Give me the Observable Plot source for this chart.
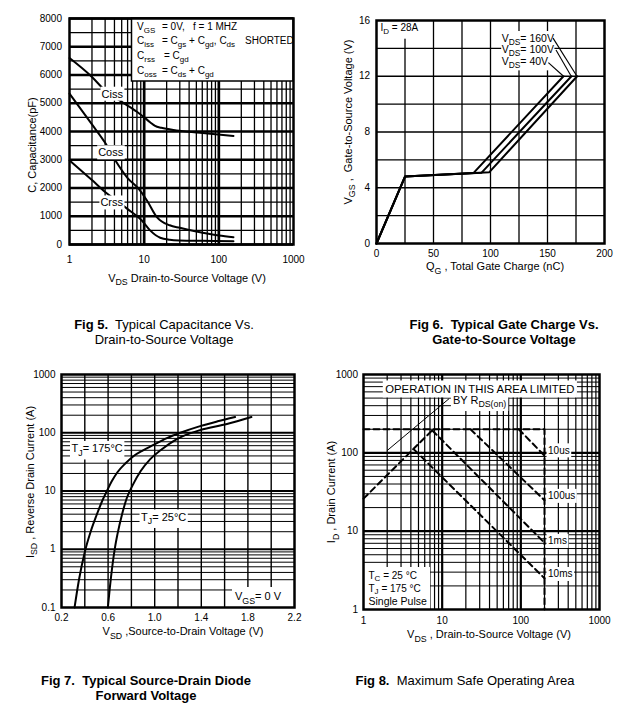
<!DOCTYPE html>
<html><head><meta charset="utf-8">
<script src="https://cdn.jsdelivr.net/npm/d3@7"></script>
<script src="https://cdn.jsdelivr.net/npm/@observablehq/plot@0.6"></script>
<style>
body{margin:0;background:#fff;font-family:"Liberation Sans",Arial,sans-serif;}
#page{position:relative;width:637px;height:710px;background:#fff;overflow:hidden;}
.panel{position:absolute;}
.cap{position:absolute;text-align:center;font-size:13px;line-height:15px;color:#000;white-space:nowrap;}
</style></head><body><div id="page"></div>
<script>
// ---------- Fig 5 data: capacitance vs VDS ----------
const capVdsIss = [1, 2, 3, 5, 8, 10, 12, 14, 17, 27, 56, 157];
const cissPF    = [6600, 5930, 5450, 5050, 4700, 4500, 4330, 4200, 4130, 4040, 3960, 3840];
const capVdsOss = [1, 2, 3, 4.1, 6, 8.4, 10.9, 14.8, 22, 30, 50, 100, 157];
const cossPF    = [5340, 4250, 3600, 2980, 2350, 1975, 1560, 970, 680, 590, 460, 320, 260];
const capVdsRss = [1, 2, 3, 4.4, 5.9, 9.3, 12, 16.4, 22, 30, 60, 157];
const crssPF    = [2980, 2280, 1860, 1530, 1270, 850, 500, 240, 170, 145, 130, 115];
const capTicksX = [1, 10, 100, 1000];
const capTicksY = [0, 1000, 2000, 3000, 4000, 5000, 6000, 7000, 8000];

// ---------- Fig 6 data: gate charge ----------
const qg40  = [0, 25, 85, 164];  const vgs40  = [0, 4.8, 5.05, 12];
const qg100 = [0, 25, 92, 171];  const vgs100 = [0, 4.8, 5.07, 12];
const qg160 = [0, 25, 99, 176];  const vgs160 = [0, 4.8, 5.12, 12];
const lead160Qg = [155.3, 176]; const lead160V = [14.7, 12];
const lead100Qg = [157.9, 171]; const lead100V = [13.85, 12];
const lead40Qg  = [151.2, 164]; const lead40V  = [12.94, 12];
const qgTicks = [0, 50, 100, 150, 200];
const vgsTicks = [0, 4, 8, 12, 16];

// ---------- Fig 7 data: diode forward voltage ----------
const vsd175 = [0.312, 0.35, 0.40, 0.45, 0.50, 0.55, 0.59, 0.63, 0.68, 0.75, 0.82, 0.90, 0.99, 1.10, 1.22, 1.39, 1.54, 1.69];
const isd175 = [0.1, 0.3, 0.9, 2.0, 3.8, 6.8, 10, 14.5, 21, 30, 40, 50, 62, 80, 100, 130, 157, 186];
const vsd25  = [0.598, 0.615, 0.635, 0.66, 0.68, 0.72, 0.76, 0.81, 0.88, 0.96, 1.05, 1.19, 1.39, 1.62, 1.83];
const isd25  = [0.1, 0.22, 0.49, 1.1, 1.8, 4, 7.5, 12.5, 22, 35, 50, 78, 111, 141, 186];
const vsdTicks = [0.2, 0.6, 1.0, 1.4, 1.8, 2.2];
const isdTicks = [0.1, 1, 10, 100, 1000];

// ---------- Fig 8 data: safe operating area ----------
const rdsVds = [1, 7.7];        const rdsId = [26, 200];
const limVds = [1, 200, 200];   const limId = [200, 200, 1];
const us10Vds = [94, 200];      const us10Id = [200, 92];
const us100Vds = [22.9, 200];   const us100Id = [200, 24.8];
const ms1Vds = [7.5, 200];      const ms1Id = [193, 7.1];
const ms10Vds = [4.4, 200];     const ms10Id = [110, 2.5];
const pointerVds = [12.2, 2.0]; const pointerId = [490, 107];
const soaTicksX = [1, 10, 100, 1000];
const soaTicksY = [1, 10, 100, 1000];

// ---------- helpers ----------
const FONT = "Liberation Sans, Arial, Helvetica, sans-serif";
const page = document.getElementById("page");
const rows = (xs, ys) => xs.map((x, i) => ({x, y: ys[i]}));
function logMinor(lo, hi) {
  const out = [];
  for (let d = lo; d < hi * 0.999; d *= 10) for (let k = 2; k <= 9; k++) out.push(+(d * k).toPrecision(3));
  return out;
}
function panel(o) {
  const svg = Plot.plot({
    width: o.width, height: o.height,
    marginLeft: o.mL, marginRight: o.mR, marginTop: o.mT, marginBottom: o.mB,
    x: o.x, y: o.y,
    style: {fontFamily: FONT, fontSize: "10px", color: "black", background: "white", overflow: "visible"},
    marks: o.marks
  });
  const div = document.createElement("div");
  div.className = "panel";
  div.style.left = o.left + "px"; div.style.top = o.top + "px";
  div.style.width = o.width + "px"; div.style.height = o.height + "px";
  div.appendChild(svg);
  page.appendChild(div);
  return svg;
}
function rich(svg, x, y, parts, o = {}) {
  const size = o.size || 10;
  const t = d3.select(svg).append("text")
    .attr("x", x).attr("y", y).attr("font-size", size).attr("fill", "black")
    .attr("font-family", FONT).attr("text-anchor", o.anchor || "start")
    .attr("font-weight", o.weight || "normal").attr("style", "white-space:pre");
  if (o.rotate) t.attr("transform", `rotate(${o.rotate} ${x} ${y})`);
  let cur = 0;
  for (const p of parts) {
    const q = typeof p === "string" ? {s: p} : p;
    const ts = t.append("tspan").text(q.s);
    const want = q.sub ? size * (o.subShift || 0.32) : 0;
    if (q.x != null) ts.attr("x", q.x);
    if (want !== cur) { ts.attr("dy", want - cur); cur = want; }
    if (q.sub) ts.attr("font-size", size * 0.8);
  }
  return t.node();
}
function box(svg, nodes, pad, ext = {}, stroke) {
  let x0 = Infinity, y0 = Infinity, x1 = -Infinity, y1 = -Infinity;
  for (const n of nodes) {
    const b = n.getBBox();
    x0 = Math.min(x0, b.x); y0 = Math.min(y0, b.y);
    x1 = Math.max(x1, b.x + b.width); y1 = Math.max(y1, b.y + b.height);
  }
  x0 -= pad; y0 -= pad; x1 += pad; y1 += pad;
  if (ext.left != null) x0 = ext.left;
  if (ext.top != null) y0 = ext.top;
  if (ext.right != null) x1 = ext.right;
  if (ext.bottom != null) y1 = ext.bottom;
  const r = document.createElementNS("http://www.w3.org/2000/svg", "rect");
  r.setAttribute("x", x0); r.setAttribute("y", y0);
  r.setAttribute("width", x1 - x0); r.setAttribute("height", y1 - y0);
  r.setAttribute("fill", "white");
  if (stroke) { r.setAttribute("stroke", "black"); r.setAttribute("stroke-width", stroke); }
  svg.insertBefore(r, nodes[0]);
  for (const n of nodes) svg.appendChild(n);
  return r;
}
function raiseFrame(svg) {
  d3.select(svg).selectAll('[aria-label="frame"]').raise();
}
const axisStyle = {tickSize: 0, label: null};

// ================= Fig 5 =================
{
  const svg = panel({
    left: 0, top: 0, width: 318, height: 290, mL: 69, mR: 25, mT: 18, mB: 46,
    x: {type: "log", domain: [1, 1000]},
    y: {domain: [0, 8000]},
    marks: [
      Plot.ruleX(logMinor(1, 1000), {stroke: "black", strokeWidth: 1.3}),
      Plot.ruleX([10, 100], {stroke: "black", strokeWidth: 2.7}),
      Plot.ruleY([500, 1500, 2500, 3500, 4500, 5500, 6500, 7500], {stroke: "black", strokeWidth: 1.3}),
      Plot.ruleY(capTicksY, {stroke: "black", strokeWidth: 2.7}),
      Plot.line(rows(capVdsIss, cissPF), {x: "x", y: "y", curve: "monotone-x", stroke: "black", strokeWidth: 2}),
      Plot.line(rows(capVdsOss, cossPF), {x: "x", y: "y", curve: "monotone-x", stroke: "black", strokeWidth: 2}),
      Plot.line(rows(capVdsRss, crssPF), {x: "x", y: "y", curve: "monotone-x", stroke: "black", strokeWidth: 2}),
      Plot.frame({stroke: "black", strokeWidth: 2.5}),
      Plot.axisX(capTicksX, {...axisStyle, tickPadding: 11, tickFormat: d => String(d)}),
      Plot.axisY(capTicksY, {...axisStyle, tickPadding: 7.5, tickFormat: d => String(d)})
    ]
  });
  const sx = svg.scale("x"), sy = svg.scale("y");
  const fr = sx.range[1], ft = sy.range[1];
  const L = [
    rich(svg, 137, 29.5, ["V", {s: "GS", sub: 1}, {s: "= 0V,", x: 162}, {s: "f = 1 MHZ", x: 193}]),
    rich(svg, 137, 43.5, ["C", {s: "iss", sub: 1}, {s: "= C", x: 162}, {s: "gs", sub: 1}, " + C", {s: "gd", sub: 1}, ", C", {s: "ds", sub: 1}, {s: "SHORTED", x: 245}]),
    rich(svg, 137, 59, ["C", {s: "rss", sub: 1}, {s: "= C", x: 164}, {s: "gd", sub: 1}]),
    rich(svg, 137, 74, ["C", {s: "oss", sub: 1}, {s: "= C", x: 162}, {s: "ds", sub: 1}, " + C", {s: "gd", sub: 1}])
  ];
  box(svg, L, 4, {right: fr, top: ft, bottom: 81, left: 131.5}, 1.5);
  for (const [name, vx, vy] of [["Ciss", 3.79, 5320], ["Coss", 3.62, 3245], ["Crss", 3.73, 1470]]) {
    const t = rich(svg, sx.apply(vx), sy.apply(vy) + 4, [name], {size: 11, anchor: "middle"});
    box(svg, [t], 1);
  }
  rich(svg, 187, 281.5, ["V", {s: "DS", sub: 1}, " Drain-to-Source Voltage (V)"], {size: 11, anchor: "middle"});
  rich(svg, 36, 145, ["C, Capacitance(pF)"], {size: 11, anchor: "middle", rotate: -90});
  raiseFrame(svg);
}

// ================= Fig 6 =================
{
  const svg = panel({
    left: 318, top: 0, width: 319, height: 290, mL: 58, mR: 33, mT: 20, mB: 47,
    x: {domain: [0, 200]},
    y: {domain: [0, 16]},
    marks: [
      Plot.ruleX([25, 50, 75, 100, 125, 150, 175], {stroke: "black", strokeWidth: 1.3}),
      Plot.ruleY([2, 4, 6, 8, 10, 12, 14], {stroke: "black", strokeWidth: 1.3}),
      Plot.line(rows(qg40, vgs40), {x: "x", y: "y", stroke: "black", strokeWidth: 2}),
      Plot.line(rows(qg100, vgs100), {x: "x", y: "y", stroke: "black", strokeWidth: 2}),
      Plot.line(rows(qg160, vgs160), {x: "x", y: "y", stroke: "black", strokeWidth: 2}),
      Plot.frame({stroke: "black", strokeWidth: 2.5}),
      Plot.axisX(qgTicks, {...axisStyle, tickPadding: 6, tickFormat: d => String(d)}),
      Plot.axisY(vgsTicks, {...axisStyle, tickPadding: 6.5, tickFormat: d => String(d)})
    ]
  });
  const sx = svg.scale("x"), sy = svg.scale("y");
  const t0 = rich(svg, sx.range[0] + 4.5, sy.range[1] + 10.5, ["I", {s: "D", sub: 1}, " = 28A"], {size: 10});
  box(svg, [t0], 3, {left: sx.range[0], top: sy.range[1]});
  const l1 = rich(svg, 183.7, 41.5, ["V", {s: "DS", sub: 1}, "= 160V"], {size: 10.5});
  const l2 = rich(svg, 183.7, 53, ["V", {s: "DS", sub: 1}, "= 100V"], {size: 10.5});
  const l3 = rich(svg, 183.7, 64.5, ["V", {s: "DS", sub: 1}, "= 40V"], {size: 10.5});
  box(svg, [l1, l2, l3], 0.5);
  const g = d3.select(svg).append("g").attr("stroke", "black").attr("stroke-width", 1.1);
  for (const [qs, vs] of [[lead160Qg, lead160V], [lead100Qg, lead100V], [lead40Qg, lead40V]]) {
    g.append("line").attr("x1", sx.apply(qs[0])).attr("y1", sy.apply(vs[0])).attr("x2", sx.apply(qs[1])).attr("y2", sy.apply(vs[1]));
  }
  rich(svg, 177, 270, ["Q", {s: "G", sub: 1}, " , Total Gate Charge (nC)"], {size: 11, anchor: "middle"});
  rich(svg, 33.5, 122, ["V", {s: "GS", sub: 1}, " ,  Gate-to-Source Voltage (V)"], {size: 11, anchor: "middle", rotate: -90});
  raiseFrame(svg);
}

// ================= Fig 7 =================
{
  const svg = panel({
    left: 0, top: 355, width: 318, height: 300, mL: 61, mR: 24, mT: 19, mB: 48,
    x: {domain: [0.2, 2.2]},
    y: {type: "log", domain: [0.1, 1000]},
    marks: [
      Plot.ruleX([0.4, 0.6, 0.8, 1.0, 1.2, 1.4, 1.6, 1.8, 2.0], {stroke: "black", strokeWidth: 1.4}),
      Plot.ruleY(logMinor(0.1, 1000), {stroke: "black", strokeWidth: 1}),
      Plot.ruleY([1, 10, 100], {stroke: "black", strokeWidth: 2.2}),
      Plot.line(rows(vsd175, isd175), {x: "x", y: "y", curve: "monotone-x", stroke: "black", strokeWidth: 2}),
      Plot.line(rows(vsd25, isd25), {x: "x", y: "y", curve: "monotone-x", stroke: "black", strokeWidth: 2}),
      Plot.frame({stroke: "black", strokeWidth: 2.5}),
      Plot.axisX(vsdTicks, {...axisStyle, tickPadding: 6, tickFormat: d => d.toFixed(1)}),
      Plot.axisY(isdTicks, {...axisStyle, tickPadding: 6, tickFormat: d => String(d)})
    ]
  });
  const sx = svg.scale("x"), sy = svg.scale("y");
  const a = rich(svg, sx.apply(0.29), sy.apply(45), ["T", {s: "J", sub: 1}, "= 175°C"], {size: 11});
  box(svg, [a], 1.5);
  const b = rich(svg, sx.apply(0.887), sy.apply(3.0), ["T", {s: "J", sub: 1}, "= 25°C"], {size: 11});
  box(svg, [b], 1.5);
  const c = rich(svg, sx.range[1] - 59, sy.range[0] - 7, ["V", {s: "GS", sub: 1}, "= 0 V"], {size: 11});
  box(svg, [c], 3, {right: sx.range[1], bottom: sy.range[0]});
  rich(svg, 183, 280, ["V", {s: "SD", sub: 1}, " ,Source-to-Drain Voltage (V)"], {size: 11, anchor: "middle"});
  rich(svg, 33.5, 127, ["I", {s: "SD", sub: 1}, " , Reverse Drain Current (A)"], {size: 11, anchor: "middle", rotate: -90});
  raiseFrame(svg);
}

// ================= Fig 8 =================
{
  const dash = {stroke: "black", strokeWidth: 2, strokeDasharray: "6,4"};
  const svg = panel({
    left: 318, top: 355, width: 319, height: 300, mL: 45, mR: 38, mT: 19, mB: 46,
    x: {type: "log", domain: [1, 1000]},
    y: {type: "log", domain: [1, 1000]},
    marks: [
      Plot.ruleX(logMinor(1, 1000), {stroke: "black", strokeWidth: 1.2}),
      Plot.ruleX([10, 100], {stroke: "black", strokeWidth: 2.2}),
      Plot.ruleY(logMinor(1, 1000), {stroke: "black", strokeWidth: 1}),
      Plot.ruleY([10, 100], {stroke: "black", strokeWidth: 2.2}),
      Plot.line(rows(rdsVds, rdsId), {x: "x", y: "y", ...dash}),
      Plot.line(rows(limVds, limId), {x: "x", y: "y", ...dash}),
      Plot.line(rows(us10Vds, us10Id), {x: "x", y: "y", ...dash}),
      Plot.line(rows(us100Vds, us100Id), {x: "x", y: "y", ...dash}),
      Plot.line(rows(ms1Vds, ms1Id), {x: "x", y: "y", ...dash}),
      Plot.line(rows(ms10Vds, ms10Id), {x: "x", y: "y", ...dash}),
      Plot.line(rows(pointerVds, pointerId), {x: "x", y: "y", stroke: "black", strokeWidth: 1}),
      Plot.frame({stroke: "black", strokeWidth: 2.5}),
      Plot.axisX(soaTicksX, {...axisStyle, tickPadding: 7, tickFormat: d => String(d)}),
      Plot.axisY(soaTicksY, {...axisStyle, tickPadding: 5.5, tickFormat: d => String(d)})
    ]
  });
  const sx = svg.scale("x"), sy = svg.scale("y");
  const o1 = rich(svg, sx.apply(1.92), sy.apply(573), ["OPERATION IN THIS AREA LIMITED"], {size: 11.3});
  const o2 = rich(svg, sx.apply(13.9), sy.apply(420), ["BY R", {s: "DS(on)", sub: 1}], {size: 11});
  box(svg, [o1], 2.5); box(svg, [o2], 2);
  for (const [lab, v] of [["10us", 106], ["100us", 27.8], ["1ms", 7.4], ["10ms", 2.8]]) {
    const t = rich(svg, sx.apply(225), sy.apply(v) + 3.5, [lab], {size: 10});
    box(svg, [t], 1.5);
  }
  const x0 = sx.range[0], yb = sy.range[0];
  const s1 = rich(svg, x0 + 5.5, yb - 30, ["T", {s: "C", sub: 1}, " = 25 °C"], {size: 10, subShift: 0.2});
  const s2 = rich(svg, x0 + 5.5, yb - 17, ["T", {s: "J", sub: 1}, " = 175 °C"], {size: 10, subShift: 0.2});
  const s3 = rich(svg, x0 + 5.5, yb - 4, ["Single Pulse"], {size: 10.5});
  box(svg, [s1, s2, s3], 3, {left: x0, bottom: yb});
  rich(svg, 171, 283, ["V", {s: "DS", sub: 1}, " , Drain-to-Source Voltage (V)"], {size: 11, anchor: "middle"});
  rich(svg, 17, 137, ["I", {s: "D", sub: 1}, " , Drain Current (A)"], {size: 11, anchor: "middle", rotate: -90});
  raiseFrame(svg);
}

// ================= Captions =================
function caption(cx, top, html) {
  const d = document.createElement("div");
  d.className = "cap";
  d.style.left = (cx - 150) + "px"; d.style.width = "300px"; d.style.top = top + "px";
  d.innerHTML = html;
  page.appendChild(d);
}
caption(164, 317, "<b>Fig 5.</b>&nbsp; Typical Capacitance Vs.<br>Drain-to-Source Voltage");
caption(504, 317, "<b>Fig 6.&nbsp; Typical Gate Charge Vs.<br>Gate-to-Source Voltage</b>");
caption(146, 673, "<b>Fig 7.&nbsp; Typical Source-Drain Diode<br>Forward Voltage</b>");
caption(465, 673, "<b>Fig 8.</b>&nbsp; Maximum Safe Operating Area");
</script></body></html>
